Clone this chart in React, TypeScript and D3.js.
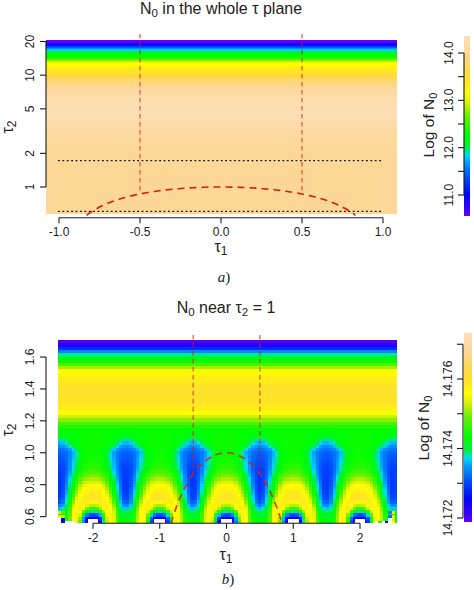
import * as d3 from "d3"

const W = 474
const H = 590

// shared colour bar: position along the bar (0..1) to colour
const cmapStops = [0, 0.04, 0.12, 0.22, 0.3, 0.335, 0.355, 0.38, 0.45, 0.55, 0.62, 0.68, 0.74, 0.8, 0.9, 1]
const cmapColors = ["#6a00ff", "#3a00ff", "#0000ff", "#0050ff", "#00a0ff", "#00d8ff", "#00e8a0", "#00ee40", "#00ff00", "#60f000", "#c8f000", "#ffff00", "#ffe622", "#ffd848", "#fdd795", "#fcdfb5"]

// panel a: N0 does not depend on tau1 at this zoom
const aTau2 = [20.6, 19.4, 18.8, 17.9, 17.2, 16.4, 15.5, 14.2, 13.7, 12.8, 12, 10, 8.7, 7.4, 6, 4.4, 3.8, 2.9, 1.75, 0.585]
const aLogN = [10.56, 10.64, 11.02, 11.32, 11.7, 11.93, 12.23, 12.35, 12.69, 13.14, 13.22, 13.52, 13.83, 14.09, 14.28, 14.36, 14.25, 14.09, 13.98, 13.98]
const aXTicks = [-1, -0.5, 0, 0.5, 1]
const aYTicks = [1, 2, 5, 10, 20]
const aBarTicks = [11, 11.5, 12, 12.5, 13, 13.5, 14]
const aBarLabels = [11, 12, 13, 14]
const aDotted = [1.72, 0.606]

// panel b: values are (log N0 - 14.17) * 1000
// above tau2 = 1.1 the rows are flat in tau1
const bFlatTau2 = [1.707, 1.675, 1.65, 1.63, 1.62, 1.6, 1.57, 1.53, 1.51, 1.456, 1.395, 1.3, 1.25, 1.2, 1.155]
const bFlatVal = [1.9, 2.25, 3.0, 3.5, 3.75, 4.05, 4.45, 5.15, 5.6, 5.8, 6.0, 5.9, 5.6, 4.95, 4.4]
// below it they repeat every integer of tau1; columns are the distance to the nearest integer
const bDist = [0, 0.05, 0.1, 0.15, 0.2, 0.25, 0.3, 0.35, 0.4, 0.45, 0.5]
const bRowTau2 = [1.1, 1.06, 1.03, 1, 0.95, 0.9, 0.85, 0.8, 0.75, 0.7, 0.65, 0.62, 0.6, 0.58, 0.56]
const bRows = [
  [4.4, 4.4, 4.4, 4.4, 4.35, 4.35, 4.3, 4.3, 4.25, 4.15, 4.1],
  [4.4, 4.4, 4.4, 4.4, 4.35, 4.3, 4.2, 4.05, 3.75, 3.6, 3.55],
  [4.4, 4.4, 4.4, 4.35, 4.3, 4.1, 3.8, 3.6, 3.45, 3.35, 3.3],
  [4.4, 4.4, 4.35, 4.3, 4.2, 3.75, 3.55, 3.35, 3.25, 3.2, 3.15],
  [4.45, 4.4, 4.4, 4.35, 4.2, 3.85, 3.65, 3.4, 3.2, 3.1, 3.05],
  [4.6, 4.6, 4.55, 4.45, 4.25, 4.0, 3.72, 3.45, 3.15, 3.0, 2.95],
  [5.0, 5.0, 4.9, 4.8, 4.6, 4.3, 3.95, 3.6, 3.25, 3.0, 2.9],
  [5.55, 5.55, 5.5, 5.35, 5.05, 4.6, 4.2, 3.85, 3.35, 3.0, 2.85],
  [5.85, 5.85, 5.8, 5.65, 5.45, 5.0, 4.45, 3.95, 3.55, 3.05, 2.9],
  [5.95, 5.95, 5.9, 5.85, 5.7, 5.45, 4.9, 4.25, 3.75, 3.2, 3.0],
  [4.5, 4.6, 5.0, 5.6, 5.85, 5.7, 5.45, 4.6, 4.0, 3.75, 3.6],
  [3.4, 3.6, 3.9, 4.6, 5.6, 5.8, 5.55, 4.75, 4.2, 4.05, 4.0],
  [2.5, 2.5, 2.9, 3.8, 5.3, 5.8, 5.6, 4.85, 4.3, 4.2, 4.2],
  [2.0, 2.2, 2.4, 3.6, 5.0, 5.8, 5.6, 4.85, 4.35, 4.3, 4.25],
  [2.0, 2.0, 2.3, 3.6, 5.0, 5.8, 5.6, 4.85, 4.4, 4.35, 4.3],
]
// the white (out of range) spots at the foot of each arch
const bWhiteAt = [-2, -1, 0, 1, 2]
// numerical noise in the bottom corners: tau1, tau2, value
const bEdgeCells: [number, number, number][] = [
  [-2.5, 0.625, 5.5], [-2.5, 0.6, 5.5], [-2.45, 0.625, 4.7], [-2.45, 0.6, 5.3],
  [-2.5, 0.58, 99], [-2.5, 0.56, 99], [-2.45, 0.58, 2.5], [-2.45, 0.56, 2.6],
  [-2.4, 0.56, 99], [-2.35, 0.56, 99], [-2.3, 0.56, 99],
  [2.5, 0.625, 5.5], [2.5, 0.6, 5.5], [2.5, 0.58, 5.4], [2.5, 0.56, 5.6],
  [2.45, 0.625, 3.4], [2.45, 0.6, 3.2], [2.45, 0.58, 99], [2.45, 0.56, 99],
  [2.4, 0.56, 2.3], [2.35, 0.56, 99], [2.3, 0.56, 4.6], [2.25, 0.56, 99],
]
const bXTicks = [-2, -1, 0, 1, 2]
const bYTicks = [0.6, 0.8, 1, 1.2, 1.4, 1.6]
const bBarTicks = [14.172, 14.173, 14.174, 14.175, 14.176, 14.177]
const bBarLabels = [14.172, 14.174, 14.176]

const fontFamily = '"Liberation Sans", Arial, sans-serif'
const axisColor = "#1a1a1a"
const textColor = "#222"
const curve = "#d81c14"

const cmap = d3.scaleLinear<string>().domain(cmapStops).range(cmapColors).clamp(true)

// panel a scales
const ax = d3.scaleLinear().domain([-1, 1]).range([59, 383])
const ay = d3.scaleLog().domain([1, 20]).range([187, 41.5])
const aColor = d3.scaleLinear().domain([10.56, 14.36]).range([0, 1])
const aValue = d3.scaleLinear().domain(aTau2).range(aLogN)
const aBarY = d3.scaleLinear().domain([11, 14]).range([195, 53])

// panel b scales
const bx = d3.scaleLinear().domain([-2, 2]).range([93, 360])
const by = d3.scaleLinear().domain([0.6, 1.6]).range([516.6, 357])
const bColor = d3.scaleLinear().domain([1.9, 7.3]).range([0, 1])
const bBarY = d3.scaleLinear().domain([14.172, 14.176]).range([518, 379])
const bBarValue = d3.scaleLinear().domain([522, 333]).range([14.1719, 14.1773])

const bFlat = d3.scaleLinear().domain(bFlatTau2).range(bFlatVal)

function bValue(tau1: number, tau2: number) {
  if (tau2 >= 1.155) return bFlat(tau2)
  const dist = Math.abs(tau1 - Math.round(tau1))
  const across = bRows.map((row) => d3.scaleLinear().domain(bDist).range(row)(dist))
  const tau2s = [1.155, ...bRowTau2]
  return d3.scaleLinear().domain(tau2s).range([4.4, ...across])(tau2)
}

function Cells() {
  // panel a is one rect per row of pixels
  const aRows = d3.range(40, 214).map((py) => ({
    py,
    fill: cmap(aColor(aValue(ay.invert(py + 0.5)))),
  }))

  const aBar = d3.range(36, 216).map((py) => ({
    py,
    fill: cmap((216 - py - 0.5) / 180),
  }))

  const bCols = d3.range(58, 397, 3.39)
  const bRowsPx = d3.range(340, 523, 3.27)
  const bCells = bCols.flatMap((px) =>
    bRowsPx.map((py) => {
      const t1 = bx.invert(px + 1.7)
      const t2 = by.invert(py + 1.6)
      return { px, py, fill: cmap(bColor(bValue(t1, t2))) }
    }),
  )

  const bBar = d3.range(333, 522).map((py) => ({
    py,
    fill: cmap(bColor((bBarValue(py + 0.5) - 14.17) * 1000)),
  }))

  return (
    <g shapeRendering="crispEdges">
      {aRows.map((r) => (
        <rect key={r.py} x={46} y={r.py} width={351} height={1} fill={r.fill} />
      ))}
      {aBar.map((r) => (
        <rect key={r.py} x={464} y={r.py} width={6} height={1} fill={r.fill} />
      ))}
      {bCells.map((c) => (
        <rect key={`${c.px}-${c.py}`} x={c.px} y={c.py} width={Math.min(4.4, 397 - c.px)} height={Math.min(4.3, 523 - c.py)} fill={c.fill} />
      ))}
      {bWhiteAt.map((t) => (
        <rect key={t} x={bx(t - 0.08)} y={by(0.585)} width={bx(0.16) - bx(0)} height={523 - by(0.585)} fill="#fff" />
      ))}
      {bEdgeCells.map(([t1, t2, v]) => (
        <rect
          key={`${t1}-${t2}`}
          x={Math.max(58, bx(t1 - 0.025))}
          y={by(t2 + 0.01)}
          width={Math.min(bx(0.05) - bx(0), 397 - bx(t1 - 0.025))}
          height={Math.min(by(0) - by(0.02), 523 - by(t2 + 0.01))}
          fill={v > 7.3 ? "#fff" : cmap(bColor(v))}
        />
      ))}
      {bBar.map((r) => (
        <rect key={r.py} x={464} y={r.py} width={8} height={1} fill={r.fill} />
      ))}
    </g>
  )
}

function Tau({ sub, x, y, rotate }: { sub: string; x: number; y: number; rotate?: boolean }) {
  return (
    <text
      x={x}
      y={y}
      fontSize={16}
      textAnchor="middle"
      fill={textColor}
      transform={rotate ? `rotate(-90 ${x} ${y})` : undefined}
    >
      τ
      <tspan dy={3} fontSize={12}>
        {sub}
      </tspan>
    </text>
  )
}

function LogN({ x, y }: { x: number; y: number }) {
  return (
    <text x={x} y={y} fontSize={15.5} textAnchor="middle" fill={textColor} transform={`rotate(-90 ${x} ${y})`}>
      Log of N
      <tspan dy={3} fontSize={11}>
        0
      </tspan>
    </text>
  )
}

function BarAxis({ ticks, labels, y, lineX, fmt, labelX }: {
  ticks: number[]
  labels: number[]
  y: (v: number) => number
  lineX: number
  labelX: number
  fmt: (v: number) => string
}) {
  return (
    <g>
      <line x1={lineX} x2={lineX} y1={y(ticks[0])} y2={y(ticks[ticks.length - 1])} stroke={axisColor} strokeWidth={1.1} />
      {ticks.map((t) => (
        <line key={t} x1={lineX - 6} x2={lineX} y1={y(t)} y2={y(t)} stroke={axisColor} strokeWidth={1.1} />
      ))}
      {labels.map((t) => (
        <text key={t} x={labelX} y={y(t)} fontSize={12} textAnchor="middle" fill={textColor} transform={`rotate(-90 ${labelX} ${y(t)})`}>
          {fmt(t)}
        </text>
      ))}
    </g>
  )
}

function PlotAxes({ xTicks, yTicks, x, y, axisY, xFmt, yFmt }: {
  xTicks: number[]
  yTicks: number[]
  x: (v: number) => number
  y: (v: number) => number
  axisY: number
  xFmt: (v: number) => string
  yFmt: (v: number) => string
}) {
  return (
    <g>
      <line x1={46} x2={46} y1={y(yTicks[0])} y2={y(yTicks[yTicks.length - 1])} stroke={axisColor} strokeWidth={1.1} />
      {yTicks.map((t) => (
        <g key={t}>
          <line x1={40} x2={46} y1={y(t)} y2={y(t)} stroke={axisColor} strokeWidth={1.1} />
          <text x={34} y={y(t)} fontSize={12} textAnchor="middle" fill={textColor} transform={`rotate(-90 34 ${y(t)})`}>
            {yFmt(t)}
          </text>
        </g>
      ))}
      <line x1={x(xTicks[0])} x2={x(xTicks[xTicks.length - 1])} y1={axisY} y2={axisY} stroke={axisColor} strokeWidth={1.1} />
      {xTicks.map((t) => (
        <g key={t}>
          <line x1={x(t)} x2={x(t)} y1={axisY} y2={axisY + 5.5} stroke={axisColor} strokeWidth={1.1} />
          <text x={x(t)} y={axisY + 18.7} fontSize={12} textAnchor="middle" fill={textColor}>
            {xFmt(t)}
          </text>
        </g>
      ))}
    </g>
  )
}

function Curves() {
  const arcTau1 = d3.range(-0.83, 0.8301, 0.01)
  const unit = (t: number) => Math.sqrt(1 - t * t)
  const aArc = d3.line<number>().x((t) => ax(t)).y((t) => ay(unit(t)))(arcTau1) ?? ""
  const bArc = d3.line<number>().x((t) => bx(t)).y((t) => by(unit(t)))(arcTau1) ?? ""
  const foot = unit(0.5)

  return (
    <g fill="none" stroke={curve}>
      {[-0.5, 0.5].map((t) => (
        <g key={t} strokeWidth={1.1} strokeDasharray="4.5 3.5" strokeOpacity={0.8}>
          <line x1={ax(t)} x2={ax(t)} y1={34} y2={ay(foot)} />
          <line x1={bx(t)} x2={bx(t)} y1={335} y2={by(foot)} />
        </g>
      ))}
      <path d={aArc} strokeWidth={1.6} strokeDasharray="7 5" />
      <path d={bArc} strokeWidth={1.6} strokeDasharray="7 5" strokeOpacity={0.85} />
      {aDotted.map((t) => (
        <line key={t} x1={58} x2={383} y1={ay(t)} y2={ay(t)} stroke="#111" strokeWidth={1.2} strokeDasharray="1.8 2.6" />
      ))}
    </g>
  )
}

const fixed1 = (v: number) => v.toFixed(1)

export default function App() {
  return (
    <svg width={W} height={H} viewBox={`0 0 ${W} ${H}`} fontFamily={fontFamily} style={{ position: "absolute", left: 0, top: 0, background: "#fff" }}>
      <Cells />
      <Curves />

      <text x={221} y={14} fontSize={16} textAnchor="middle" fill={textColor}>
        N<tspan dy={3} fontSize={11.5}>0</tspan>
        <tspan dy={-3}> in the whole τ plane</tspan>
      </text>
      <PlotAxes xTicks={aXTicks} yTicks={aYTicks} x={ax} y={ay} axisY={217.7} xFmt={fixed1} yFmt={(v) => String(v)} />
      <Tau sub="1" x={221} y={252} />
      <Tau sub="2" x={13} y={127} rotate />
      <text x={224} y={282} fontSize={15} fontStyle="italic" fontFamily='"Liberation Serif", serif' textAnchor="middle" fill={textColor}>
        a<tspan fontStyle="normal">)</tspan>
      </text>
      <BarAxis ticks={aBarTicks} labels={aBarLabels} y={aBarY} lineX={464} labelX={453} fmt={fixed1} />
      <LogN x={434} y={125} />

      <text x={226} y={312.5} fontSize={16} textAnchor="middle" fill={textColor}>
        N<tspan dy={3} fontSize={11.5}>0</tspan>
        <tspan dy={-3}> near τ</tspan>
        <tspan dy={3} fontSize={11.5}>2</tspan>
        <tspan dy={-3}> = 1</tspan>
      </text>
      <PlotAxes xTicks={bXTicks} yTicks={bYTicks} x={bx} y={by} axisY={523.3} xFmt={(v) => String(v)} yFmt={fixed1} />
      <Tau sub="1" x={226} y={560} />
      <Tau sub="2" x={13} y={430} rotate />
      <text x={228} y={584} fontSize={15} fontStyle="italic" fontFamily='"Liberation Serif", serif' textAnchor="middle" fill={textColor}>
        b<tspan fontStyle="normal">)</tspan>
      </text>
      <BarAxis ticks={bBarTicks} labels={bBarLabels} y={bBarY} lineX={463} labelX={452} fmt={(v) => v.toFixed(3)} />
      <LogN x={429} y={428} />
    </svg>
  )
}
